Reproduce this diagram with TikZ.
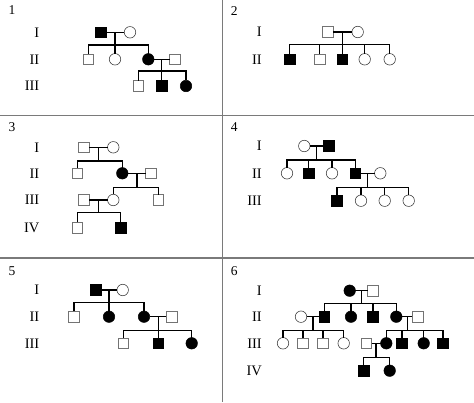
\documentclass[tikz,border=0pt]{standalone}
\usepackage{fontspec}
\setmainfont{Liberation Serif}
\begin{document}
\begin{tikzpicture}[x=1pt,y=-1pt,
  ind/.style={inner sep=0pt,outer sep=0pt,line width=0.55pt},
  male/.style={ind,rectangle,draw=black!55,minimum size=10.5pt},
  female/.style={ind,circle,draw=black!80,minimum size=11.5pt},
  aff/.style={fill=black,draw=black},
  gen/.style={anchor=east,inner sep=0pt,font=\fontsize{14.5}{16}\selectfont},
  num/.style={anchor=west,inner sep=0pt,font=\fontsize{13.5}{16}\selectfont},
  ped/.style={line width=1.2pt},
  frame/.style={draw=black!52,line width=1.4pt}]
  \useasboundingbox (0,0) rectangle (474,402);
  \draw[frame] (222.7,0) -- (222.7,402);
  \draw[frame] (0,115.7) -- (474,115.7);
  \draw[frame] (0,258) -- (474,258);

  % panel 1
  \node[num] (n1) at (8.5,10.5) {1};
  \node[gen] (g1a) at (39.5,32.3) {I};
  \node[gen] (g1b) at (39.5,59.3) {II};
  \node[gen] (g1c) at (39.5,86) {III};
  \node[male,aff] (p1i1) at (100.7,32.3) {};
  \node[female] (p1i2) at (130,32.3) {};
  \node[male] (p1ii1) at (88.3,59.3) {};
  \node[female] (p1ii2) at (115,59.3) {};
  \node[female,aff] (p1ii3) at (148.3,59.3) {};
  \node[male] (p1ii4) at (175,59.3) {};
  \node[male] (p1iii1) at (138.3,86) {};
  \node[male,aff] (p1iii2) at (161.7,86) {};
  \node[female,aff] (p1iii3) at (186,86) {};
  \coordinate (p1s1) at (115,45);
  \coordinate (p1s2) at (161.7,71);
  \draw[ped] (p1i1.east) -- (p1i2.west);
  \draw[ped] (p1s1) -- (p1s1 |- p1i1);
  \draw[ped] (p1ii1.north) |- (p1s1) -| (p1ii3.north);
  \draw[ped] (p1ii2.north) -- (p1ii2.north |- p1s1);
  \draw[ped] (p1ii3.east) -- (p1ii4.west);
  \draw[ped] (p1s2) -- (p1s2 |- p1ii3);
  \draw[ped] (p1iii1.north) |- (p1s2) -| (p1iii3.north);
  \draw[ped] (p1iii2.north) -- (p1iii2.north |- p1s2);

  % panel 2
  \node[num] (n2) at (230.7,11) {2};
  \node[gen] (g2a) at (262,32) {I};
  \node[gen] (g2b) at (262,59.3) {II};
  \node[male] (p2i1) at (327.7,32) {};
  \node[female] (p2i2) at (357.7,32) {};
  \node[male,aff] (p2ii1) at (289.7,59.3) {};
  \node[male] (p2ii2) at (319.7,59.3) {};
  \node[male,aff] (p2ii3) at (342.3,59.3) {};
  \node[female] (p2ii4) at (364.7,59.3) {};
  \node[female] (p2ii5) at (389.7,59.3) {};
  \coordinate (p2s1) at (342.3,44.5);
  \draw[ped] (p2i1.east) -- (p2i2.west);
  \draw[ped] (p2s1) -- (p2s1 |- p2i1);
  \draw[ped] (p2ii1.north) |- (p2s1) -| (p2ii5.north);
  \foreach \c in {p2ii2,p2ii3,p2ii4}
    \draw[ped] (\c.north) -- (\c.north |- p2s1);

  % panel 3
  \node[num] (n3) at (8.5,127) {3};
  \node[gen] (g3a) at (39.5,147.3) {I};
  \node[gen] (g3b) at (39.5,173.3) {II};
  \node[gen] (g3c) at (39.5,200) {III};
  \node[gen] (g3d) at (39.5,227.7) {IV};
  \node[male] (p3i1) at (84,147.3) {};
  \node[female] (p3i2) at (113.3,147.3) {};
  \node[male] (p3ii1) at (77.3,173.3) {};
  \node[female,aff] (p3ii2) at (122.3,173.3) {};
  \node[male] (p3ii3) at (151,173.3) {};
  \node[male] (p3iii1) at (84,200) {};
  \node[female] (p3iii2) at (113.3,200) {};
  \node[male] (p3iii3) at (158.3,200) {};
  \node[male] (p3iv1) at (77.3,227.7) {};
  \node[male,aff] (p3iv2) at (120.7,227.7) {};
  \coordinate (p3s1) at (98.3,161);
  \coordinate (p3s2) at (137,187.7);
  \coordinate (p3s3) at (98.3,212.3);
  \draw[ped] (p3i1.east) -- (p3i2.west);
  \draw[ped] (p3s1) -- (p3s1 |- p3i1);
  \draw[ped] (p3ii1.north) |- (p3s1) -| (p3ii2.north);
  \draw[ped] (p3ii2.east) -- (p3ii3.west);
  \draw[ped] (p3s2) -- (p3s2 |- p3ii2);
  \draw[ped] (p3iii2.north) |- (p3s2) -| (p3iii3.north);
  \draw[ped] (p3iii1.east) -- (p3iii2.west);
  \draw[ped] (p3s3) -- (p3s3 |- p3iii1);
  \draw[ped] (p3iv1.north) |- (p3s3) -| (p3iv2.north);

  % panel 4
  \node[num] (n4) at (230.7,127) {4};
  \node[gen] (g4a) at (262,146) {I};
  \node[gen] (g4b) at (262,173.3) {II};
  \node[gen] (g4c) at (262,200.7) {III};
  \node[female] (p4i1) at (304.3,146) {};
  \node[male,aff] (p4i2) at (328.7,146) {};
  \node[female] (p4ii1) at (287,173.3) {};
  \node[male,aff] (p4ii2) at (308.7,173.3) {};
  \node[female] (p4ii3) at (332,173.3) {};
  \node[male,aff] (p4ii4) at (355.3,173.3) {};
  \node[female] (p4ii5) at (380.3,173.3) {};
  \node[male,aff] (p4iii1) at (337,200.7) {};
  \node[female] (p4iii2) at (361,200.7) {};
  \node[female] (p4iii3) at (384.7,200.7) {};
  \node[female] (p4iii4) at (408.7,200.7) {};
  \coordinate (p4s1) at (316.8,160);
  \coordinate (p4s2) at (367.4,187.3);
  \draw[ped] (p4i1.east) -- (p4i2.west);
  \draw[ped] (p4s1) -- (p4s1 |- p4i1);
  \draw[ped] (p4ii1.north) |- (p4s1) -| (p4ii4.north);
  \foreach \c in {p4ii2,p4ii3}
    \draw[ped] (\c.north) -- (\c.north |- p4s1);
  \draw[ped] (p4ii4.east) -- (p4ii5.west);
  \draw[ped] (p4s2) -- (p4s2 |- p4ii4);
  \draw[ped] (p4iii1.north) |- (p4s2) -| (p4iii4.north);
  \foreach \c in {p4iii2,p4iii3}
    \draw[ped] (\c.north) -- (\c.north |- p4s2);

  % panel 5
  \node[num] (n5) at (8.5,271) {5};
  \node[gen] (g5a) at (39.5,290) {I};
  \node[gen] (g5b) at (39.5,316.7) {II};
  \node[gen] (g5c) at (39.5,343.3) {III};
  \node[male,aff] (p5i1) at (96,290) {};
  \node[female] (p5i2) at (122.7,290) {};
  \node[male] (p5ii1) at (74,316.7) {};
  \node[female,aff] (p5ii2) at (109,316.7) {};
  \node[female,aff] (p5ii3) at (144,316.7) {};
  \node[male] (p5ii4) at (171.7,316.7) {};
  \node[male] (p5iii1) at (123.3,343.3) {};
  \node[male,aff] (p5iii2) at (158.2,343.3) {};
  \node[female,aff] (p5iii3) at (191.7,343.3) {};
  \coordinate (p5s1) at (109,302.7);
  \coordinate (p5s2) at (158.2,330.7);
  \draw[ped] (p5i1.east) -- (p5i2.west);
  \draw[ped] (p5s1) -- (p5s1 |- p5i1);
  \draw[ped] (p5ii1.north) |- (p5s1) -| (p5ii3.north);
  \draw[ped] (p5ii2.north) -- (p5ii2.north |- p5s1);
  \draw[ped] (p5ii3.east) -- (p5ii4.west);
  \draw[ped] (p5s2) -- (p5s2 |- p5ii3);
  \draw[ped] (p5iii1.north) |- (p5s2) -| (p5iii3.north);
  \draw[ped] (p5iii2.north) -- (p5iii2.north |- p5s2);

  % panel 6
  \node[num] (n6) at (230.7,271) {6};
  \node[gen] (g6a) at (262,290.7) {I};
  \node[gen] (g6b) at (262,316.7) {II};
  \node[gen] (g6c) at (262,343.3) {III};
  \node[gen] (g6d) at (262,370.7) {IV};
  \node[female,aff] (p6i1) at (349.7,290.7) {};
  \node[male] (p6i2) at (373,290.7) {};
  \node[female] (p6ii1) at (301,316.7) {};
  \node[male,aff] (p6ii2) at (324.3,316.7) {};
  \node[female,aff] (p6ii3) at (351,316.7) {};
  \node[male,aff] (p6ii4) at (373,316.7) {};
  \node[female,aff] (p6ii5) at (396.3,316.7) {};
  \node[male] (p6ii6) at (417.7,316.7) {};
  \node[female] (p6iii1) at (283,343.3) {};
  \node[male] (p6iii2) at (303,343.3) {};
  \node[male] (p6iii3) at (323,343.3) {};
  \node[female] (p6iii4) at (343.7,343.3) {};
  \node[male] (p6iii5) at (366.3,343.3) {};
  \node[female,aff] (p6iii6) at (386.3,343.3) {};
  \node[male,aff] (p6iii7) at (402,343.3) {};
  \node[female,aff] (p6iii8) at (423.7,343.3) {};
  \node[male,aff] (p6iii9) at (443,343.3) {};
  \node[male,aff] (p6iv1) at (363.7,370.7) {};
  \node[female,aff] (p6iv2) at (389.7,370.7) {};
  \coordinate (p6s1) at (361.7,303.3);
  \coordinate (p6s2) at (313,330.7);
  \coordinate (p6s3) at (407.4,330.7);
  \coordinate (p6s4) at (376,357.3);
  \draw[ped] (p6i1.east) -- (p6i2.west);
  \draw[ped] (p6s1) -- (p6s1 |- p6i1);
  \draw[ped] (p6ii2.north) |- (p6s1) -| (p6ii5.north);
  \foreach \c in {p6ii3,p6ii4}
    \draw[ped] (\c.north) -- (\c.north |- p6s1);
  \draw[ped] (p6ii1.east) -- (p6ii2.west);
  \draw[ped] (p6s2) -- (p6s2 |- p6ii1);
  \draw[ped] (p6iii1.north) |- (p6s2) -| (p6iii4.north);
  \foreach \c in {p6iii2,p6iii3}
    \draw[ped] (\c.north) -- (\c.north |- p6s2);
  \draw[ped] (p6ii5.east) -- (p6ii6.west);
  \draw[ped] (p6s3) -- (p6s3 |- p6ii5);
  \draw[ped] (p6iii6.north) |- (p6s3) -| (p6iii9.north);
  \foreach \c in {p6iii7,p6iii8}
    \draw[ped] (\c.north) -- (\c.north |- p6s3);
  \draw[ped] (p6iii5.east) -- (p6iii6.west);
  \draw[ped] (p6s4) -- (p6s4 |- p6iii5);
  \draw[ped] (p6iv1.north) |- (p6s4) -| (p6iv2.north);
\end{tikzpicture}
\end{document}
